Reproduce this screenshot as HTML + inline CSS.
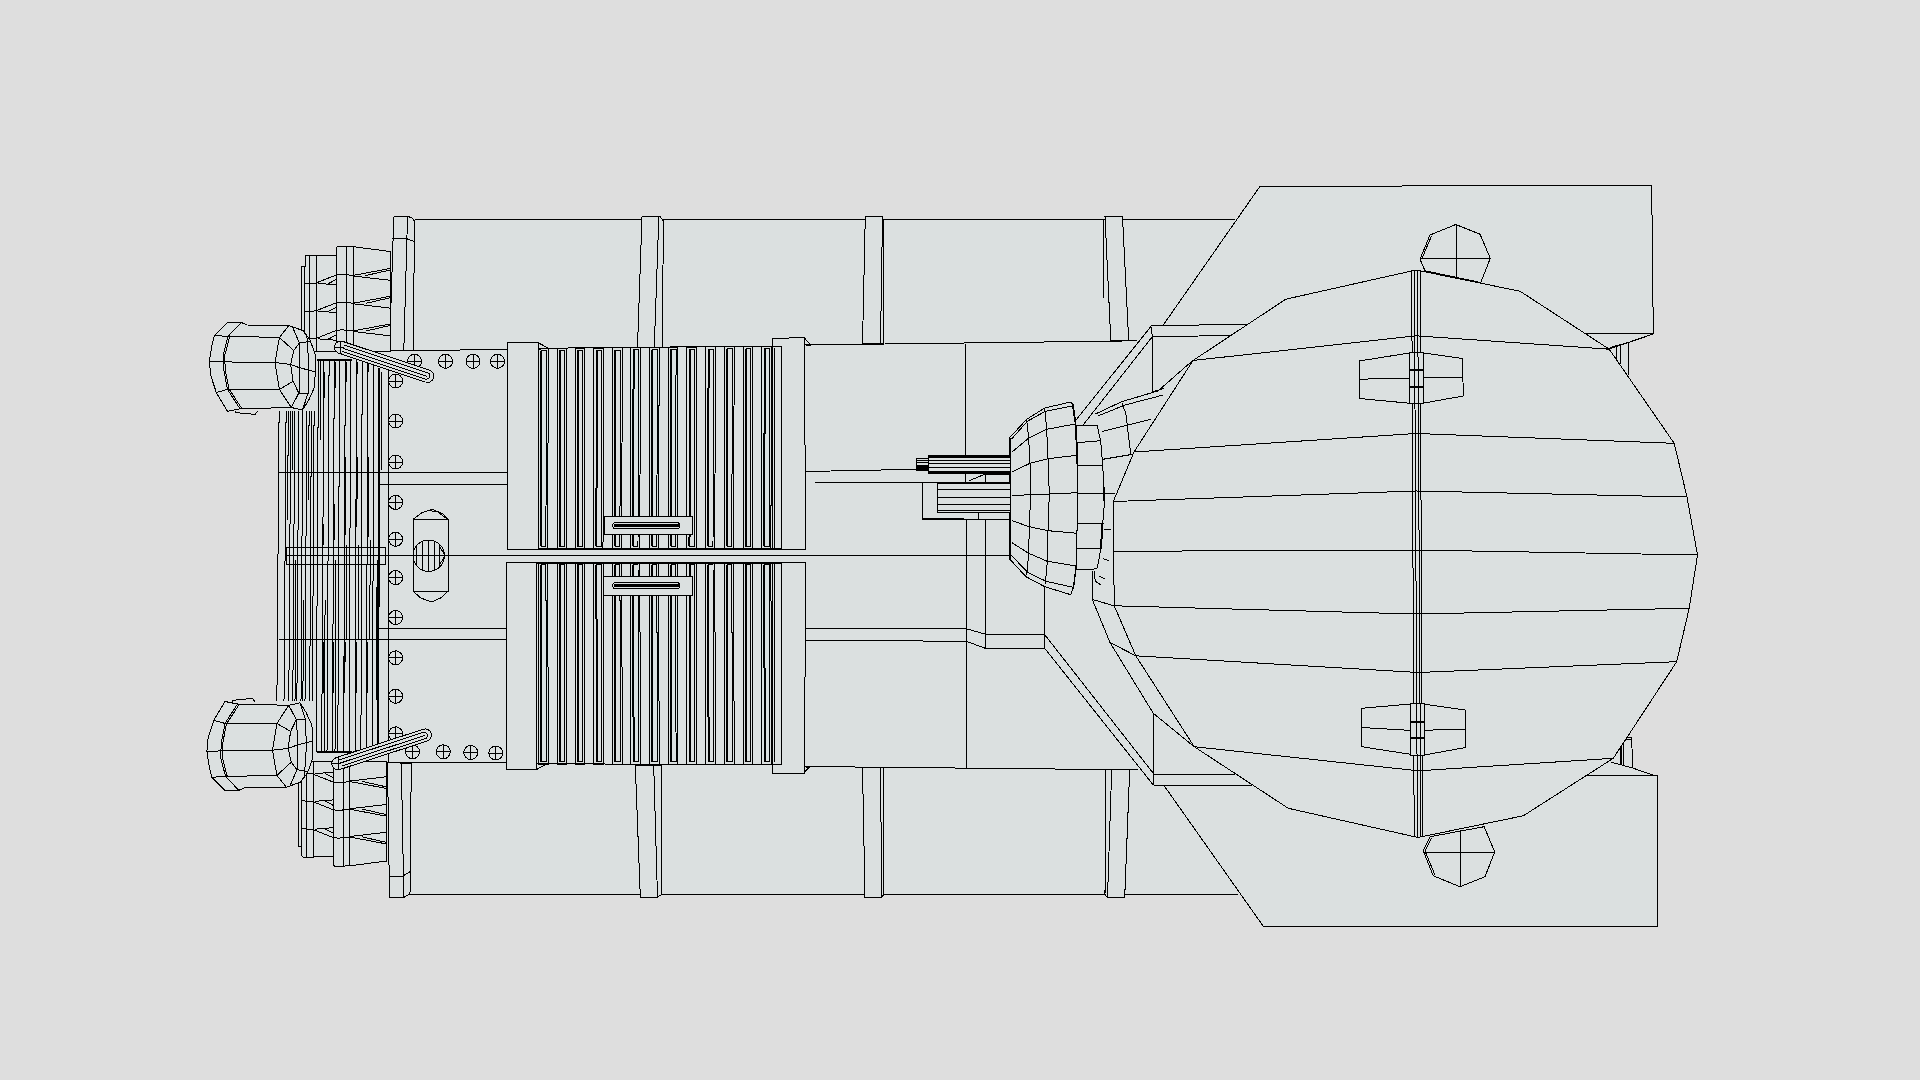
<!DOCTYPE html>
<html><head><meta charset="utf-8"><title>wireframe</title>
<style>
html,body{margin:0;padding:0;background:#dedede;width:1920px;height:1080px;overflow:hidden;font-family:"Liberation Sans",sans-serif;}
svg{display:block;position:absolute;left:0;top:0}
.l{fill:none;stroke:#000;stroke-width:1;vector-effect:non-scaling-stroke}
.f{fill:#dbe0e0;stroke:#000;stroke-width:1;vector-effect:non-scaling-stroke}
</style></head><body>
<svg width="1920" height="1080" viewBox="0 0 1920 1080" shape-rendering="crispEdges">
<polygon fill="#dbe0e0" stroke="none" points="390.0,219.3 1236.0,219.3 1236.0,894.5 388.0,894.5"/>
<polygon fill="#dbe0e0" stroke="none" points="279.0,350.0 392.0,350.0 392.0,763.0 279.0,763.0"/>
<polygon fill="#dbe0e0" stroke="none" points="1163.3,325.0 1260.0,186.3 1651.7,185.5 1653.3,333.7 1628.3,342.5 1628.3,375.0 1600.0,360.0 1300.0,420.0 1150.0,330.0"/>
<polygon fill="#dbe0e0" stroke="none" points="1164.2,785.8 1263.3,926.3 1658.0,926.3 1657.5,775.8 1631.7,766.0 1631.7,737.5 1600.0,750.0 1300.0,700.0 1150.0,780.0"/>
<polyline class="l" points="1163.3,325.0 1260.0,186.3 1651.7,185.5 1653.3,333.5 1585.8,333.7"/>
<polyline class="l" points="1653.3,334.0 1609.0,349.0"/>
<polyline class="l" points="1164.2,785.8 1263.3,926.3 1658.0,926.3 1657.5,775.8 1585.8,775.8"/>
<polyline class="l" points="1610.0,347.5 1628.3,342.5 1628.3,375.0"/>
<polyline class="l" points="1616.7,345.5 1616.7,359.0"/>
<polyline class="l" points="1620.0,344.8 1620.0,364.0"/>
<polyline class="l" points="1611.3,762.2 1632.4,767.9 1655.5,776.0"/>
<polyline class="l" points="1632.4,767.9 1631.8,737.4 1626.9,737.4"/>
<polyline class="l" points="1625.5,739.3 1631.8,739.3"/>
<polyline class="l" style="stroke-width:1.6" points="1621.2,745.0 1621.2,764.8"/>
<polyline class="l" points="1623.6,742.0 1623.6,765.4"/>
<polyline class="l" points="414.5,219.3 1235.0,219.3"/>
<polyline class="l" points="410.0,894.5 1237.5,894.5"/>
<polyline class="l" points="389.5,350.6 507.5,349.6"/>
<polyline class="l" points="805.0,345.0 1100.0,341.3 1137.5,340.8"/>
<polyline class="l" points="387.5,762.5 506.0,762.8"/>
<polyline class="l" points="805.0,766.5 1105.0,769.5 1138.3,769.7"/>
<polygon class="f" points="393.8,217.0 407.5,216.5 411.5,217.5 414.5,221.0 413.3,350.0 389.5,350.0"/>
<polyline class="l" points="407.5,217.0 403.8,350.0"/>
<polyline class="l" points="392.2,238.0 407.0,238.8 414.0,241.3"/>
<polygon class="f" points="387.5,762.5 411.3,763.5 410.0,893.8 403.8,897.5 389.5,897.5"/>
<polyline class="l" points="401.3,762.5 403.8,897.0"/>
<polyline class="l" points="388.8,876.3 402.5,876.3 410.5,871.3"/>
<polygon class="f" points="642.0,217.0 660.0,216.5 663.3,221.0 662.5,347.0 637.5,347.0"/>
<polyline class="l" points="658.8,217.5 654.3,347.0"/>
<polygon class="f" points="635.3,765.0 661.7,765.0 661.3,894.7 657.5,897.0 640.3,897.0"/>
<polyline class="l" points="653.7,765.0 657.5,897.0"/>
<polygon class="f" points="865.3,216.3 882.5,216.3 883.3,220.0 883.3,343.7 862.5,343.7"/>
<polyline class="l" points="882.5,216.3 880.5,343.7"/>
<polygon class="f" points="862.5,767.5 883.5,767.5 883.5,894.7 882.0,897.0 865.0,897.0"/>
<polyline class="l" points="880.3,767.5 882.0,897.0"/>
<polygon class="f" points="1105.0,216.5 1122.5,216.5 1128.7,340.8 1110.8,340.8"/>
<polyline class="l" points="1103.3,219.5 1103.3,298.0"/>
<polygon class="f" points="1105.8,769.7 1129.7,769.7 1124.7,897.5 1107.5,897.5 1105.0,894.5"/>
<polyline class="l" points="1111.7,769.7 1107.5,897.5"/>
<polyline class="l" points="965.5,343.5 965.5,455.0"/>
<polyline class="l" points="965.8,473.5 965.8,482.0"/>
<polyline class="l" points="966.3,519.5 966.3,768.0"/>
<polyline class="l" points="985.3,474.0 985.3,481.5"/>
<polyline class="l" points="985.3,518.7 985.3,648.3"/>
<polyline class="l" points="1044.7,587.0 1044.7,648.0"/>
<polyline class="l" points="969.3,480.7 985.3,474.0"/>
<polyline class="l" points="806.0,471.5 916.0,469.3"/>
<polyline class="l" points="815.0,482.5 922.0,482.0"/>
<polyline class="l" points="806.0,628.4 966.3,628.7 985.3,634.2 1044.7,634.7"/>
<polyline class="l" points="806.0,640.2 966.3,641.3 985.3,648.3 1044.7,648.3"/>
<polyline class="l" points="279.0,472.7 507.5,472.7"/>
<polyline class="l" points="379.0,484.6 507.5,484.6"/>
<polyline class="l" points="279.0,639.8 507.0,639.8"/>
<polyline class="l" points="379.0,628.0 507.0,628.0"/>
<polyline class="l" points="385.0,555.4 1009.0,555.4"/>
<polyline class="l" points="1076.0,420.0 1150.8,326.7"/>
<polyline class="l" points="1083.3,424.7 1151.7,337.5"/>
<polyline class="l" points="1044.7,634.7 1153.3,773.3"/>
<polyline class="l" points="1044.7,648.3 1153.3,785.0"/>
<polyline class="l" points="1150.8,325.8 1247.5,324.2"/>
<polyline class="l" points="1151.7,337.0 1231.7,335.3"/>
<polyline class="l" points="1150.8,325.8 1152.5,337.5 1152.5,391.7 1164.0,388.5"/>
<polyline class="l" points="1153.5,713.0 1153.5,785.0"/>
<polyline class="l" points="1153.5,774.2 1235.0,774.2"/>
<polyline class="l" points="1153.5,785.0 1251.7,785.0"/>
<polygon class="f" points="1455.8,224.5 1480.0,234.2 1490.3,258.3 1480.8,282.5 1425.0,270.8 1420.0,259.2 1430.0,235.0"/>
<polyline class="l" points="1431.5,236.0 1421.7,259.2"/>
<polyline class="l" points="1456.0,224.5 1456.0,278.0"/>
<polyline class="l" points="1420.0,258.3 1490.3,258.3"/>
<polygon class="f" points="1430.0,836.7 1423.3,850.8 1433.3,875.8 1460.0,886.7 1485.0,876.7 1494.7,852.0 1484.2,826.7"/>
<polyline class="l" points="1431.5,838.0 1425.0,851.0 1435.0,875.0"/>
<polyline class="l" points="1460.0,830.0 1460.0,886.7"/>
<polyline class="l" points="1423.3,852.0 1494.7,852.0"/>
<polygon class="f" points="1416.0,270.0 1520.0,291.2 1609.2,349.2 1674.2,443.3 1687.0,497.0 1697.5,555.0 1689.2,608.3 1676.7,661.7 1613.3,758.3 1523.3,815.8 1418.0,837.5 1288.3,808.3 1194.2,746.7 1135.8,655.8 1114.2,605.8 1113.3,501.5 1134.0,452.0 1193.0,360.5 1285.8,299.2"/>
<polyline class="l" points="1193.0,360.5 1416.0,335.8 1609.2,349.2"/>
<polyline class="l" points="1134.0,452.0 1416.0,433.5 1674.2,443.3"/>
<polyline class="l" points="1113.3,501.5 1416.0,491.0 1687.0,497.0"/>
<polyline class="l" points="1113.5,551.3 1416.0,550.0 1697.5,555.0"/>
<polyline class="l" points="1114.2,605.8 1416.0,614.0 1689.2,608.3"/>
<polyline class="l" points="1135.8,655.8 1418.0,672.5 1676.7,661.7"/>
<polyline class="l" points="1194.2,746.7 1418.3,770.8 1613.3,758.3"/>
<polyline class="l" points="1411.7,270.0 1414.2,837.5"/>
<polyline class="l" points="1414.2,270.0 1417.5,837.5"/>
<polyline class="l" points="1417.5,270.0 1420.8,837.5"/>
<polyline class="l" points="1420.0,270.0 1422.5,837.5"/>
<polygon class="f" points="1359.2,361.0 1412.5,352.5 1424.0,353.0 1462.5,358.5 1463.3,396.0 1424.0,403.0 1412.5,403.5 1359.2,398.5"/>
<polyline class="l" points="1359.2,379.2 1463.0,377.0"/>
<polygon class="f" points="1409.5,352.5 1423.0,352.5 1423.0,369.0 1409.5,369.0"/>
<polygon class="f" points="1409.5,370.0 1423.0,370.0 1423.0,386.0 1409.5,386.0"/>
<polygon class="f" points="1409.5,387.0 1423.0,387.0 1423.0,403.5 1409.5,403.5"/>
<polygon class="f" points="1361.7,708.3 1410.8,704.0 1424.2,704.2 1465.3,710.0 1465.8,747.5 1424.2,755.0 1411.7,754.5 1361.7,746.7"/>
<polyline class="l" points="1361.7,727.5 1413.0,730.5 1465.5,729.2"/>
<polygon class="f" points="1410.8,703.7 1424.7,703.7 1424.7,721.7 1410.8,721.7"/>
<polygon class="f" points="1410.8,722.5 1424.7,722.5 1424.7,737.5 1410.8,737.5"/>
<polygon class="f" points="1410.8,738.3 1424.7,738.3 1424.7,755.0 1410.8,755.0"/>
<polyline class="l" points="1414.2,270.0 1417.5,837.5"/>
<polyline class="l" points="1417.5,270.0 1420.8,837.5"/>
<polyline class="l" points="1092.0,599.3 1114.7,606.0"/>
<polyline class="l" points="1092.5,600.0 1110.0,642.5 1153.3,713.3 1194.2,746.7"/>
<polyline class="l" points="1110.0,642.5 1135.8,655.8"/>
<polyline class="l" points="1193.3,360.0 1160.0,389.2"/>
<polyline class="l" points="1095.0,414.2 1121.7,401.7 1158.3,390.8"/>
<polyline class="l" points="1098.3,415.8 1125.0,405.0 1163.3,395.0"/>
<polyline class="l" points="1121.7,402.5 1125.8,413.3 1130.8,455.0"/>
<polyline class="l" points="1101.7,431.7 1150.8,419.2"/>
<polyline class="l" points="1103.3,459.2 1133.3,454.2"/>
<polyline class="l" points="1092.0,570.7 1092.0,599.3"/>
<polyline class="l" points="1094.0,570.7 1095.3,581.3 1101.3,585.3"/>
<polyline class="l" points="1098.7,576.0 1105.3,579.3"/>
<polyline class="l" points="1102.7,558.7 1108.7,560.7"/>
<polyline class="l" points="1104.0,529.3 1110.7,529.3"/>
<polygon class="f" points="1009.3,438.0 1026.7,419.3 1044.7,408.0 1070.7,402.0 1073.3,404.7 1076.0,424.7 1078.0,492.7 1076.0,568.0 1074.0,585.3 1070.7,594.7 1044.7,586.7 1026.0,576.7 1009.3,558.7"/>
<polyline class="l" points="1011.3,439.3 1027.3,421.3 1045.3,411.3 1072.0,406.0"/>
<polyline class="l" points="1011.3,555.3 1027.3,572.0 1046.0,581.3 1073.3,587.3"/>
<polyline class="l" points="1012.0,452.0 1028.0,438.7 1046.7,429.3 1075.3,424.0"/>
<polyline class="l" points="1012.0,472.0 1030.0,463.3 1048.0,458.7 1076.7,455.3"/>
<polyline class="l" points="1012.0,496.0 1030.7,494.4 1049.3,494.0 1078.0,492.7"/>
<polyline class="l" points="1012.0,520.7 1029.3,526.7 1048.0,530.7 1077.3,533.3"/>
<polyline class="l" points="1012.0,542.7 1028.7,553.3 1047.3,561.3 1076.0,566.0"/>
<polyline class="l" points="1026.7,420.0 1028.7,438.7 1030.0,463.3 1030.7,494.4 1029.3,526.7 1028.7,553.3 1026.7,574.7"/>
<polyline class="l" points="1044.7,408.7 1046.7,429.3 1048.0,458.7 1049.3,494.0 1048.0,530.7 1047.3,561.3 1045.3,584.0"/>
<polyline class="l" points="1072.0,402.7 1075.3,424.0 1076.7,455.3 1078.0,492.7 1077.3,533.3 1076.0,566.7 1073.3,588.0 1070.7,594.7"/>
<polyline class="l" style="stroke-width:2.5" points="1010.0,438.0 1010.0,558.7"/>
<polygon class="f" points="1076.7,425.3 1097.3,426.0 1100.7,441.3 1102.7,465.3 1104.7,500.0 1102.7,524.0 1100.7,549.3 1097.3,568.0 1092.0,569.8 1076.0,569.3 1078.0,492.7"/>
<polyline class="l" points="1076.7,442.7 1100.7,440.7"/>
<polyline class="l" points="1077.5,466.0 1102.7,465.3"/>
<polyline class="l" points="1078.0,493.3 1104.5,494.0"/>
<polyline class="l" points="1077.5,523.3 1102.7,523.3"/>
<polyline class="l" points="1076.7,548.7 1100.7,548.7"/>
<polyline class="l" style="stroke-width:2" points="1103.6,487.0 1104.2,501.0"/>
<polyline class="l" style="stroke-width:2" points="1102.6,523.0 1100.8,549.0"/>
<polyline class="l" points="1078.0,493.3 1115.0,493.8"/>
<polygon class="f" points="922.0,482.0 1009.3,482.0 1009.3,519.3 922.0,519.3"/>
<polyline class="l" style="stroke-width:2" points="922.0,519.0 964.0,519.3"/>
<polygon class="f" points="937.3,483.3 1010.0,483.3 1010.0,512.7 937.3,512.7"/>
<polyline class="l" points="937.3,489.3 1010.0,489.3"/>
<polyline class="l" points="937.3,497.3 1010.0,497.3"/>
<polyline class="l" points="937.3,504.7 1010.0,504.7"/>
<polyline class="l" points="937.3,510.0 1010.0,510.0"/>
<polyline class="l" style="stroke-width:1.5" points="937.3,483.3 1010.0,483.3"/>
<polyline class="l" points="978.7,512.7 978.7,519.0"/>
<polyline class="l" points="985.3,474.0 1009.0,474.0"/>
<polygon class="f" points="928.3,455.3 1010.7,455.3 1010.7,473.3 928.3,473.3"/>
<polyline class="l" style="stroke-width:2.6" points="928.3,456.6 1010.7,456.6"/>
<polyline class="l" points="928.3,460.0 1010.7,460.0"/>
<polyline class="l" points="928.3,463.3 1010.7,463.3"/>
<polyline class="l" points="928.3,467.3 1010.7,467.3"/>
<polyline class="l" points="928.3,471.3 1010.7,471.3"/>
<polyline class="l" style="stroke-width:1.6" points="928.3,472.6 1010.7,472.6"/>
<polygon class="f" points="916.0,458.3 928.3,458.3 928.3,470.7 916.0,470.7"/>
<polyline class="l" points="916.0,460.5 928.3,460.5"/>
<polyline class="l" points="916.0,462.5 928.3,462.5"/>
<rect x="916" y="464.5" width="12.5" height="6.5" fill="#000"/>
<polyline class="l" points="538.0,348.3 772.5,346.0"/>
<polyline class="l" points="507.5,548.6 781.0,548.6"/>
<polyline class="l" points="536.0,549.8 806.0,549.8"/>
<polyline class="l" points="538.5,548.1 538.5,348.5 548.3,348.5 547.7,548.1"/>
<polyline class="l" points="541.3,350.7 546.5,350.7 545.9,546.1 540.9,546.1"/>
<polyline class="l" style="stroke-width:2" points="541.5,350.7 541.1,546.1"/>
<polyline class="l" points="557.0,548.1 557.0,348.3 566.8,348.3 566.2,548.1"/>
<polyline class="l" points="559.8,350.5 565.0,350.5 564.4,546.1 559.4,546.1"/>
<polyline class="l" style="stroke-width:2" points="560.0,350.5 559.6,546.1"/>
<polyline class="l" points="575.0,548.1 575.0,348.1 584.8,348.1 584.2,548.1"/>
<polyline class="l" points="577.8,350.3 583.0,350.3 582.4,546.1 577.4,546.1"/>
<polyline class="l" style="stroke-width:2" points="578.0,350.3 577.6,546.1"/>
<polyline class="l" points="593.8,548.1 593.8,348.0 603.5,348.0 603.0,548.1"/>
<polyline class="l" points="596.5,350.2 601.8,350.2 601.1,546.1 596.1,546.1"/>
<polyline class="l" style="stroke-width:2" points="596.8,350.2 596.4,546.1"/>
<polyline class="l" points="612.5,548.1 612.5,347.8 622.3,347.8 621.7,548.1"/>
<polyline class="l" points="615.3,350.0 620.5,350.0 619.9,546.1 614.9,546.1"/>
<polyline class="l" style="stroke-width:2" points="615.5,350.0 615.1,546.1"/>
<polyline class="l" points="630.6,548.1 630.6,347.6 640.4,347.6 639.8,548.1"/>
<polyline class="l" points="633.4,349.8 638.6,349.8 638.0,546.1 633.0,546.1"/>
<polyline class="l" style="stroke-width:2" points="633.6,349.8 633.2,546.1"/>
<polyline class="l" points="649.4,548.1 649.4,347.4 659.2,347.4 658.6,548.1"/>
<polyline class="l" points="652.2,349.6 657.4,349.6 656.8,546.1 651.8,546.1"/>
<polyline class="l" style="stroke-width:2" points="652.4,349.6 652.0,546.1"/>
<polyline class="l" points="668.1,548.1 668.1,347.2 677.9,347.2 677.3,548.1"/>
<polyline class="l" points="670.9,349.4 676.1,349.4 675.5,546.1 670.5,546.1"/>
<polyline class="l" style="stroke-width:2" points="671.1,349.4 670.7,546.1"/>
<polyline class="l" points="686.9,548.1 686.9,347.0 696.7,347.0 696.1,548.1"/>
<polyline class="l" points="689.7,349.2 694.9,349.2 694.3,546.1 689.3,546.1"/>
<polyline class="l" style="stroke-width:2" points="689.9,349.2 689.5,546.1"/>
<polyline class="l" points="705.6,548.1 705.6,346.9 715.4,346.9 714.8,548.1"/>
<polyline class="l" points="708.4,349.1 713.6,349.1 713.0,546.1 708.0,546.1"/>
<polyline class="l" style="stroke-width:2" points="708.6,349.1 708.2,546.1"/>
<polyline class="l" points="724.4,548.1 724.4,346.7 734.2,346.7 733.6,548.1"/>
<polyline class="l" points="727.2,348.9 732.4,348.9 731.8,546.1 726.8,546.1"/>
<polyline class="l" style="stroke-width:2" points="727.4,348.9 727.0,546.1"/>
<polyline class="l" points="743.0,548.1 743.0,346.5 752.8,346.5 752.2,548.1"/>
<polyline class="l" points="745.8,348.7 751.0,348.7 750.4,546.1 745.4,546.1"/>
<polyline class="l" style="stroke-width:2" points="746.0,348.7 745.6,546.1"/>
<polyline class="l" points="761.7,548.1 761.7,346.3 771.5,346.3 770.9,548.1"/>
<polyline class="l" points="764.5,348.5 769.7,348.5 769.1,546.1 764.1,546.1"/>
<polyline class="l" style="stroke-width:2" points="764.7,348.5 764.3,546.1"/>
<polyline class="l" points="507.0,562.4 781.0,562.4"/>
<polyline class="l" points="536.0,563.6 806.0,563.6"/>
<polyline class="l" points="536.0,763.8 772.5,764.5"/>
<polyline class="l" points="538.5,562.9 538.5,764.0 548.3,764.0 547.7,562.9"/>
<polyline class="l" points="541.3,761.8 546.5,761.8 545.9,564.9 540.9,564.9"/>
<polyline class="l" style="stroke-width:2" points="541.5,761.8 541.1,564.9"/>
<polyline class="l" points="557.0,562.9 557.0,764.0 566.8,764.0 566.2,562.9"/>
<polyline class="l" points="559.8,761.8 565.0,761.8 564.4,564.9 559.4,564.9"/>
<polyline class="l" style="stroke-width:2" points="560.0,761.8 559.6,564.9"/>
<polyline class="l" points="575.0,562.9 575.0,764.0 584.8,764.0 584.2,562.9"/>
<polyline class="l" points="577.8,761.8 583.0,761.8 582.4,564.9 577.4,564.9"/>
<polyline class="l" style="stroke-width:2" points="578.0,761.8 577.6,564.9"/>
<polyline class="l" points="593.8,562.9 593.8,764.0 603.5,764.0 603.0,562.9"/>
<polyline class="l" points="596.5,761.8 601.8,761.8 601.1,564.9 596.1,564.9"/>
<polyline class="l" style="stroke-width:2" points="596.8,761.8 596.4,564.9"/>
<polyline class="l" points="612.5,562.9 612.5,764.0 622.3,764.0 621.7,562.9"/>
<polyline class="l" points="615.3,761.8 620.5,761.8 619.9,564.9 614.9,564.9"/>
<polyline class="l" style="stroke-width:2" points="615.5,761.8 615.1,564.9"/>
<polyline class="l" points="630.6,562.9 630.6,764.0 640.4,764.0 639.8,562.9"/>
<polyline class="l" points="633.4,761.8 638.6,761.8 638.0,564.9 633.0,564.9"/>
<polyline class="l" style="stroke-width:2" points="633.6,761.8 633.2,564.9"/>
<polyline class="l" points="649.4,562.9 649.4,764.0 659.2,764.0 658.6,562.9"/>
<polyline class="l" points="652.2,761.8 657.4,761.8 656.8,564.9 651.8,564.9"/>
<polyline class="l" style="stroke-width:2" points="652.4,761.8 652.0,564.9"/>
<polyline class="l" points="668.1,562.9 668.1,764.0 677.9,764.0 677.3,562.9"/>
<polyline class="l" points="670.9,761.8 676.1,761.8 675.5,564.9 670.5,564.9"/>
<polyline class="l" style="stroke-width:2" points="671.1,761.8 670.7,564.9"/>
<polyline class="l" points="686.9,562.9 686.9,764.0 696.7,764.0 696.1,562.9"/>
<polyline class="l" points="689.7,761.8 694.9,761.8 694.3,564.9 689.3,564.9"/>
<polyline class="l" style="stroke-width:2" points="689.9,761.8 689.5,564.9"/>
<polyline class="l" points="705.6,562.9 705.6,764.0 715.4,764.0 714.8,562.9"/>
<polyline class="l" points="708.4,761.8 713.6,761.8 713.0,564.9 708.0,564.9"/>
<polyline class="l" style="stroke-width:2" points="708.6,761.8 708.2,564.9"/>
<polyline class="l" points="724.4,562.9 724.4,764.0 734.2,764.0 733.6,562.9"/>
<polyline class="l" points="727.2,761.8 732.4,761.8 731.8,564.9 726.8,564.9"/>
<polyline class="l" style="stroke-width:2" points="727.4,761.8 727.0,564.9"/>
<polyline class="l" points="743.0,562.9 743.0,764.0 752.8,764.0 752.2,562.9"/>
<polyline class="l" points="745.8,761.8 751.0,761.8 750.4,564.9 745.4,564.9"/>
<polyline class="l" style="stroke-width:2" points="746.0,761.8 745.6,564.9"/>
<polyline class="l" points="761.7,562.9 761.7,764.0 771.5,764.0 770.9,562.9"/>
<polyline class="l" points="764.5,761.8 769.7,761.8 769.1,564.9 764.1,564.9"/>
<polyline class="l" style="stroke-width:2" points="764.7,761.8 764.3,564.9"/>
<polygon class="f" points="507.5,343.0 538.0,342.6 538.0,549.0 507.5,549.0"/>
<polyline class="l" points="538.0,342.6 548.0,348.0 538.0,349.5"/>
<polygon class="f" points="506.5,562.6 536.5,562.6 536.5,769.5 506.5,769.5"/>
<polyline class="l" points="536.5,769.5 546.0,764.5"/>
<polygon class="f" points="781.0,346.5 772.5,346.5 772.5,338.6 804.0,337.5 806.0,549.6 781.0,549.6"/>
<polyline class="l" points="781.0,346.5 781.0,549.6"/>
<polyline class="l" points="772.6,346.0 772.6,549.0"/>
<polyline class="l" points="774.5,348.0 774.5,549.0"/>
<polyline class="l" points="804.0,337.5 810.8,345.0 805.5,345.3"/>
<polygon class="f" points="781.0,562.5 806.0,562.5 804.2,773.3 772.5,773.3 772.5,764.0 781.0,764.0"/>
<polyline class="l" points="781.0,562.5 781.0,764.0"/>
<polyline class="l" points="772.6,563.0 772.6,764.0"/>
<polyline class="l" points="774.5,563.0 774.5,762.0"/>
<polyline class="l" points="804.2,766.7 809.0,767.5 804.2,772.5"/>
<polygon class="f" points="604.4,516.5 692.5,516.5 692.5,534.3 604.4,534.3"/>
<rect class="l" x="612.8" y="522.5" width="67" height="6.2" rx="3" ry="3"/>
<polyline class="l" style="stroke-width:3.2" points="614.0,525.6 678.5,525.6"/>
<polygon class="f" points="603.4,576.5 692.5,576.5 692.5,595.3 603.4,595.3"/>
<rect class="l" x="612.8" y="582.5" width="67" height="6.3" rx="3" ry="3"/>
<polyline class="l" style="stroke-width:3.2" points="614.0,585.6 678.5,585.6"/>
<circle class="l" cx="414.5" cy="361.3" r="7.0"/>
<polyline class="l" points="407.5,361.3 421.5,361.3"/>
<polyline class="l" points="414.5,354.3 414.5,368.3"/>
<circle class="l" cx="445.5" cy="361.3" r="7.0"/>
<polyline class="l" points="438.5,361.3 452.5,361.3"/>
<polyline class="l" points="445.5,354.3 445.5,368.3"/>
<circle class="l" cx="473.0" cy="361.3" r="7.0"/>
<polyline class="l" points="466.0,361.3 480.0,361.3"/>
<polyline class="l" points="473.0,354.3 473.0,368.3"/>
<circle class="l" cx="497.5" cy="361.3" r="7.0"/>
<polyline class="l" points="490.5,361.3 504.5,361.3"/>
<polyline class="l" points="497.5,354.3 497.5,368.3"/>
<circle class="l" cx="412.5" cy="751.8" r="7.0"/>
<polyline class="l" points="405.5,751.8 419.5,751.8"/>
<polyline class="l" points="412.5,744.8 412.5,758.8"/>
<circle class="l" cx="443.3" cy="751.8" r="7.0"/>
<polyline class="l" points="436.3,751.8 450.3,751.8"/>
<polyline class="l" points="443.3,744.8 443.3,758.8"/>
<circle class="l" cx="470.8" cy="752.5" r="7.0"/>
<polyline class="l" points="463.8,752.5 477.8,752.5"/>
<polyline class="l" points="470.8,745.5 470.8,759.5"/>
<circle class="l" cx="495.8" cy="753.0" r="7.0"/>
<polyline class="l" points="488.8,753.0 502.8,753.0"/>
<polyline class="l" points="495.8,746.0 495.8,760.0"/>
<circle class="l" cx="395.6" cy="381.0" r="7.0"/>
<polyline class="l" points="388.6,381.0 402.6,381.0"/>
<polyline class="l" points="395.6,374.0 395.6,388.0"/>
<circle class="l" cx="395.6" cy="421.0" r="7.0"/>
<polyline class="l" points="388.6,421.0 402.6,421.0"/>
<polyline class="l" points="395.6,414.0 395.6,428.0"/>
<circle class="l" cx="395.6" cy="462.0" r="7.0"/>
<polyline class="l" points="388.6,462.0 402.6,462.0"/>
<polyline class="l" points="395.6,455.0 395.6,469.0"/>
<circle class="l" cx="395.6" cy="502.4" r="7.0"/>
<polyline class="l" points="388.6,502.4 402.6,502.4"/>
<polyline class="l" points="395.6,495.4 395.6,509.4"/>
<circle class="l" cx="395.6" cy="539.3" r="7.0"/>
<polyline class="l" points="388.6,539.3 402.6,539.3"/>
<polyline class="l" points="395.6,532.3 395.6,546.3"/>
<circle class="l" cx="395.6" cy="577.6" r="7.0"/>
<polyline class="l" points="388.6,577.6 402.6,577.6"/>
<polyline class="l" points="395.6,570.6 395.6,584.6"/>
<circle class="l" cx="395.6" cy="617.5" r="7.0"/>
<polyline class="l" points="388.6,617.5 402.6,617.5"/>
<polyline class="l" points="395.6,610.5 395.6,624.5"/>
<circle class="l" cx="395.6" cy="657.8" r="7.0"/>
<polyline class="l" points="388.6,657.8 402.6,657.8"/>
<polyline class="l" points="395.6,650.8 395.6,664.8"/>
<circle class="l" cx="395.6" cy="696.3" r="7.0"/>
<polyline class="l" points="388.6,696.3 402.6,696.3"/>
<polyline class="l" points="395.6,689.3 395.6,703.3"/>
<circle class="l" cx="395.6" cy="733.8" r="7.0"/>
<polyline class="l" points="388.6,733.8 402.6,733.8"/>
<polyline class="l" points="395.6,726.8 395.6,740.8"/>
<polyline class="l" points="413.3,519.3 422.0,512.7 432.0,509.3 443.3,514.0 448.0,519.3 448.0,591.3 442.0,597.3 432.0,602.0 420.7,598.0 413.3,591.3 413.3,519.3"/>
<polyline class="l" points="413.3,519.3 448.0,519.3"/>
<polyline class="l" points="413.3,591.3 448.0,591.3"/>
<polyline class="l" points="427.0,510.5 437.0,511.5 449.5,520.5"/>
<circle class="l" cx="428.7" cy="555.7" r="15.7" fill="none"/>
<polyline class="l" points="416.0,546.5 416.0,564.9"/>
<polyline class="l" points="422.0,541.5 422.0,569.9"/>
<polyline class="l" points="428.0,540.0 428.0,571.4"/>
<polyline class="l" points="434.0,540.9 434.0,570.5"/>
<polyline class="l" points="439.3,544.1 439.3,567.3"/>
<polyline class="l" points="439.3,546.5 445.3,555.5 439.3,565.0"/>
<polyline class="l" points="286.1,411.5 284.0,701.0"/>
<polyline class="l" points="290.8,411.5 288.8,701.0"/>
<polyline class="l" points="294.8,411.5 292.8,701.0"/>
<polyline class="l" points="298.8,411.5 296.9,701.0"/>
<polyline class="l" points="302.8,411.5 301.0,701.0"/>
<polyline class="l" points="306.8,411.5 305.0,701.0"/>
<polyline class="l" points="311.4,411.5 309.7,701.0"/>
<polyline class="l" points="314.1,411.5 312.4,701.0"/>
<polyline class="l" points="318.4,360.5 316.2,752.0"/>
<polyline class="l" points="323.9,360.5 321.7,752.0"/>
<polyline class="l" points="329.1,360.5 327.0,752.0"/>
<polyline class="l" points="334.3,360.5 332.4,752.0"/>
<polyline class="l" points="339.6,360.5 337.8,752.0"/>
<polyline class="l" points="345.3,360.5 343.6,752.0"/>
<polyline class="l" points="350.7,360.5 349.1,752.0"/>
<polyline class="l" points="356.6,360.5 355.1,752.0"/>
<polyline class="l" points="362.2,360.5 360.9,752.0"/>
<polyline class="l" points="367.7,360.5 366.4,752.0"/>
<polyline class="l" points="373.7,360.5 372.5,752.0"/>
<polyline class="l" style="stroke-width:2" points="379.2,368.0 378.1,752.0"/>
<polyline class="l" points="381.6,372.0 381.3,470.0"/>
<polyline class="l" points="388.3,364.0 388.3,762.5"/>
<polyline class="l" points="279.1,411.5 276.9,701.0"/>
<polyline class="l" style="stroke-width:1.6" points="316.5,360.2 352.0,360.2"/>
<polyline class="l" style="stroke-width:1.6" points="316.5,751.8 352.0,751.8"/>
<polyline class="l" style="stroke-width:2" points="324.3,372.0 324.2,398.0"/>
<polyline class="l" style="stroke-width:2" points="334.8,362.0 334.7,388.0"/>
<polyline class="l" style="stroke-width:2" points="345.8,362.0 345.7,382.0"/>
<polyline class="l" style="stroke-width:2" points="357.1,362.0 357.0,374.0"/>
<polyline class="l" style="stroke-width:2" points="368.2,363.0 368.2,372.0"/>
<polyline class="l" style="stroke-width:2" points="323.5,524.0 323.4,545.0"/>
<polyline class="l" style="stroke-width:2" points="334.1,504.0 334.0,540.0"/>
<polyline class="l" style="stroke-width:2" points="345.4,457.0 345.0,535.0"/>
<polyline class="l" style="stroke-width:2" points="356.7,457.0 356.4,527.0"/>
<polyline class="l" style="stroke-width:2" points="367.9,457.0 367.6,537.0"/>
<polyline class="l" style="stroke-width:2" points="322.9,642.0 322.6,693.0"/>
<polyline class="l" style="stroke-width:2" points="333.5,642.0 333.2,693.0"/>
<polyline class="l" style="stroke-width:2" points="344.6,642.0 344.4,693.0"/>
<polyline class="l" style="stroke-width:2" points="356.0,642.0 355.8,693.0"/>
<polyline class="l" style="stroke-width:2" points="367.3,642.0 367.1,693.0"/>
<polyline class="l" style="stroke-width:2" points="377.6,560.0 377.2,700.0"/>
<polyline class="l" points="288.3,411.5 287.6,520.0"/>
<polyline class="l" points="292.7,411.5 292.3,470.0"/>
<polyline class="l" points="295.9,560.0 295.0,701.0"/>
<polyline class="l" points="303.5,600.0 302.9,701.0"/>
<polyline class="l" points="309.1,411.5 308.6,500.0"/>
<polyline class="l" points="321.0,360.5 320.5,440.0"/>
<polyline class="l" points="325.1,600.0 324.3,752.0"/>
<polyline class="l" points="335.9,560.0 335.0,752.0"/>
<polyline class="l" points="347.0,545.0 346.6,640.0"/>
<polyline class="l" points="358.6,545.0 358.2,640.0"/>
<polyline class="l" points="370.2,540.0 369.8,640.0"/>
<polyline class="l" points="286.0,547.4 385.3,547.4 385.3,564.0 286.0,564.0 286.0,547.4"/>
<polyline class="l" points="286.0,555.5 385.3,555.5"/>
<polygon class="f" points="301.3,266.0 305.0,266.0 305.0,256.5 307.0,255.0 317.5,255.5 336.2,256.0 336.2,247.5 338.0,246.2 352.5,246.6 390.0,251.5 390.0,351.0 301.3,351.0"/>
<polyline class="l" points="304.6,266.0 304.6,351.0"/>
<polyline class="l" points="309.6,255.5 309.6,351.0"/>
<polyline class="l" points="316.6,256.0 316.6,351.0"/>
<polyline class="l" points="336.2,256.0 336.2,351.0"/>
<polyline class="l" points="346.8,246.4 346.8,351.0"/>
<polyline class="l" points="353.1,247.0 353.1,351.0"/>
<polyline class="l" points="304.8,284.0 316.0,283.0 336.2,275.0 341.5,274.3 353.3,275.4 390.0,268.5"/>
<polyline class="l" points="317.8,283.3 336.2,284.8"/>
<polyline class="l" points="328.0,283.8 336.2,279.5"/>
<polyline class="l" points="353.3,276.0 390.0,280.3"/>
<polyline class="l" points="365.5,275.6 390.0,270.0"/>
<polyline class="l" points="304.8,311.8 316.0,310.8 336.2,302.8 341.5,302.1 353.3,303.2 390.0,296.3"/>
<polyline class="l" points="317.8,311.1 336.2,312.6"/>
<polyline class="l" points="328.0,311.6 336.2,307.3"/>
<polyline class="l" points="353.3,303.8 390.0,308.1"/>
<polyline class="l" points="365.5,303.4 390.0,297.8"/>
<polyline class="l" points="304.8,339.5 316.0,338.5 336.2,330.5 341.5,329.8 353.3,330.9 390.0,324.0"/>
<polyline class="l" points="317.8,338.8 336.2,340.3"/>
<polyline class="l" points="328.0,339.3 336.2,335.0"/>
<polyline class="l" points="353.3,331.5 390.0,335.8"/>
<polyline class="l" points="365.5,331.1 390.0,325.5"/>
<polygon class="f" points="298.1,846.5 301.8,846.5 301.8,856.0 303.8,857.5 314.3,857.0 333.0,856.5 333.0,865.0 334.8,866.3 349.3,865.9 386.8,861.0 386.8,761.5 298.1,761.5"/>
<polyline class="l" points="301.4,846.5 301.4,761.5"/>
<polyline class="l" points="306.4,857.0 306.4,761.5"/>
<polyline class="l" points="313.4,856.5 313.4,761.5"/>
<polyline class="l" points="333.0,856.5 333.0,761.5"/>
<polyline class="l" points="343.6,866.1 343.6,761.5"/>
<polyline class="l" points="349.9,865.5 349.9,761.5"/>
<polyline class="l" points="301.6,828.5 312.8,829.5 333.0,837.5 338.3,838.2 350.1,837.1 386.8,844.0"/>
<polyline class="l" points="314.6,829.2 333.0,827.7"/>
<polyline class="l" points="324.8,828.7 333.0,833.0"/>
<polyline class="l" points="350.1,836.5 386.8,832.2"/>
<polyline class="l" points="362.3,836.9 386.8,842.5"/>
<polyline class="l" points="301.6,800.7 312.8,801.7 333.0,809.7 338.3,810.4 350.1,809.3 386.8,816.2"/>
<polyline class="l" points="314.6,801.4 333.0,799.9"/>
<polyline class="l" points="324.8,800.9 333.0,805.2"/>
<polyline class="l" points="350.1,808.7 386.8,804.4"/>
<polyline class="l" points="362.3,809.1 386.8,814.7"/>
<polyline class="l" points="301.6,773.0 312.8,774.0 333.0,782.0 338.3,782.7 350.1,781.6 386.8,788.5"/>
<polyline class="l" points="314.6,773.7 333.0,772.2"/>
<polyline class="l" points="324.8,773.2 333.0,777.5"/>
<polyline class="l" points="350.1,781.0 386.8,776.7"/>
<polyline class="l" points="362.3,781.4 386.8,787.0"/>
<polyline class="l" points="235.0,411.0 235.0,412.5 255.0,414.4 257.5,411.0"/>
<polygon class="f" points="214.4,335.6 227.5,322.5 241.3,322.5 246.9,325.0 288.8,325.6 292.5,326.9 303.1,330.6 310.0,340.0 315.0,353.8 315.4,370.0 314.4,387.5 308.8,400.0 302.5,410.0 291.3,407.5 240.0,408.8 227.5,411.3 216.3,392.5 210.6,375.0 209.4,361.3 211.9,345.0"/>
<polyline class="l" points="241.3,322.5 228.1,336.3 223.1,355.0 223.8,370.0 227.5,389.4 240.0,408.8"/>
<polyline class="l" points="229.6,337.0 224.6,356.0 225.3,370.0 229.0,389.0 241.5,408.0"/>
<polyline class="l" points="214.4,335.6 228.1,336.3 279.4,337.5"/>
<polyline class="l" points="209.4,361.3 223.1,361.9 274.4,362.5 290.6,364.4 298.8,367.5 315.6,371.9"/>
<polyline class="l" points="216.3,392.5 227.5,389.4 279.4,389.4"/>
<polyline class="l" points="288.8,325.6 279.4,337.5 275.0,362.5 279.4,389.4 291.3,407.5"/>
<polyline class="l" points="279.4,337.5 293.8,350.6 299.4,343.1 292.5,326.9"/>
<polyline class="l" points="299.4,343.1 310.0,341.3"/>
<polyline class="l" points="293.8,350.6 290.6,364.4 293.1,381.3 279.4,389.4"/>
<polyline class="l" points="293.1,381.3 298.8,393.1 291.3,407.5"/>
<polyline class="l" points="298.8,393.1 308.8,393.8"/>
<polyline class="l" points="300.0,343.1 299.4,393.1"/>
<polyline class="l" points="303.1,330.6 306.9,336.3 308.8,365.0 308.1,393.1 302.5,410.0"/>
<polyline class="l" points="232.5,701.8 232.5,700.3 252.5,698.4 255.0,701.8"/>
<polygon class="f" points="211.9,777.2 225.0,790.3 238.8,790.3 244.4,787.8 286.3,787.2 290.0,785.9 300.6,782.2 307.5,772.8 312.5,759.0 312.9,742.8 311.9,725.3 306.3,712.8 300.0,702.8 288.8,705.3 237.5,704.0 225.0,701.5 213.8,720.3 208.1,737.8 206.9,751.5 209.4,767.8"/>
<polyline class="l" points="238.8,790.3 225.6,776.5 220.6,757.8 221.3,742.8 225.0,723.4 237.5,704.0"/>
<polyline class="l" points="227.1,775.8 222.1,756.8 222.8,742.8 226.5,723.8 239.0,704.8"/>
<polyline class="l" points="211.9,777.2 225.6,776.5 276.9,775.3"/>
<polyline class="l" points="206.9,751.5 220.6,750.9 271.9,750.3 288.1,748.4 296.3,745.3 313.1,740.9"/>
<polyline class="l" points="213.8,720.3 225.0,723.4 276.9,723.4"/>
<polyline class="l" points="286.3,787.2 276.9,775.3 272.5,750.3 276.9,723.4 288.8,705.3"/>
<polyline class="l" points="276.9,775.3 291.3,762.2 296.9,769.7 290.0,785.9"/>
<polyline class="l" points="296.9,769.7 307.5,771.5"/>
<polyline class="l" points="291.3,762.2 288.1,748.4 290.6,731.5 276.9,723.4"/>
<polyline class="l" points="290.6,731.5 296.3,719.7 288.8,705.3"/>
<polyline class="l" points="296.3,719.7 306.3,719.0"/>
<polyline class="l" points="297.5,769.7 296.9,719.7"/>
<polyline class="l" points="300.6,782.2 304.4,776.5 306.3,747.8 305.6,719.7 300.0,702.8"/>
<polyline class="l" points="316.0,351.0 336.0,351.0"/>
<polyline class="l" points="314.0,761.3 334.0,761.3"/>
<circle class="f" cx="427.6" cy="376.2" r="6.2"/>
<circle class="l" cx="426.2" cy="375.7" r="3.4"/>
<polygon fill="#dbe0e0" stroke="none" points="342.7,341.4 429.6,370.3 425.6,382.1 338.7,353.2"/>
<polyline class="l" points="342.7,341.4 429.6,370.3"/>
<polyline class="l" points="341.7,344.3 428.6,373.2"/>
<polyline class="l" points="340.6,347.5 427.5,376.4"/>
<polyline class="l" points="339.6,350.5 426.5,379.4"/>
<polyline class="l" points="338.7,353.2 425.6,382.1"/>
<circle class="f" cx="340.7" cy="347.3" r="6.2"/>
<polyline class="l" points="334.5,347.3 346.9,347.3"/>
<polyline class="l" points="340.7,341.1 340.7,353.5"/>
<polygon fill="#dbe0e0" stroke="none" points="345.3,343.1 353.8,346.0 350.4,356.2 341.8,353.4"/>
<polyline class="l" points="345.0,342.2 355.9,345.8"/>
<polyline class="l" points="344.1,345.1 355.0,348.7"/>
<polyline class="l" points="343.0,348.3 353.9,351.9"/>
<polyline class="l" points="342.0,351.3 352.9,354.9"/>
<polyline class="l" points="341.1,354.0 352.0,357.6"/>
<circle class="f" cx="425.2" cy="735.1" r="6.2"/>
<circle class="l" cx="423.8" cy="735.6" r="3.4"/>
<polygon fill="#dbe0e0" stroke="none" points="336.1,757.7 423.3,729.2 427.1,741.0 339.9,769.5"/>
<polyline class="l" points="336.1,757.7 423.3,729.2"/>
<polyline class="l" points="337.0,760.6 424.2,732.1"/>
<polyline class="l" points="338.1,763.8 425.3,735.3"/>
<polyline class="l" points="339.1,766.8 426.3,738.3"/>
<polyline class="l" points="339.9,769.5 427.1,741.0"/>
<circle class="f" cx="338.0" cy="763.6" r="6.2"/>
<polyline class="l" points="331.8,763.6 344.2,763.6"/>
<polyline class="l" points="338.0,757.4 338.0,769.8"/>
<polygon fill="#dbe0e0" stroke="none" points="339.2,757.5 347.7,754.7 351.1,765.0 342.5,767.8"/>
<polyline class="l" points="338.5,756.9 349.4,753.4"/>
<polyline class="l" points="339.4,759.8 350.3,756.2"/>
<polyline class="l" points="340.4,763.0 351.4,759.4"/>
<polyline class="l" points="341.4,766.1 352.4,762.5"/>
<polyline class="l" points="342.3,768.7 353.2,765.1"/>
</svg>
</body></html>
